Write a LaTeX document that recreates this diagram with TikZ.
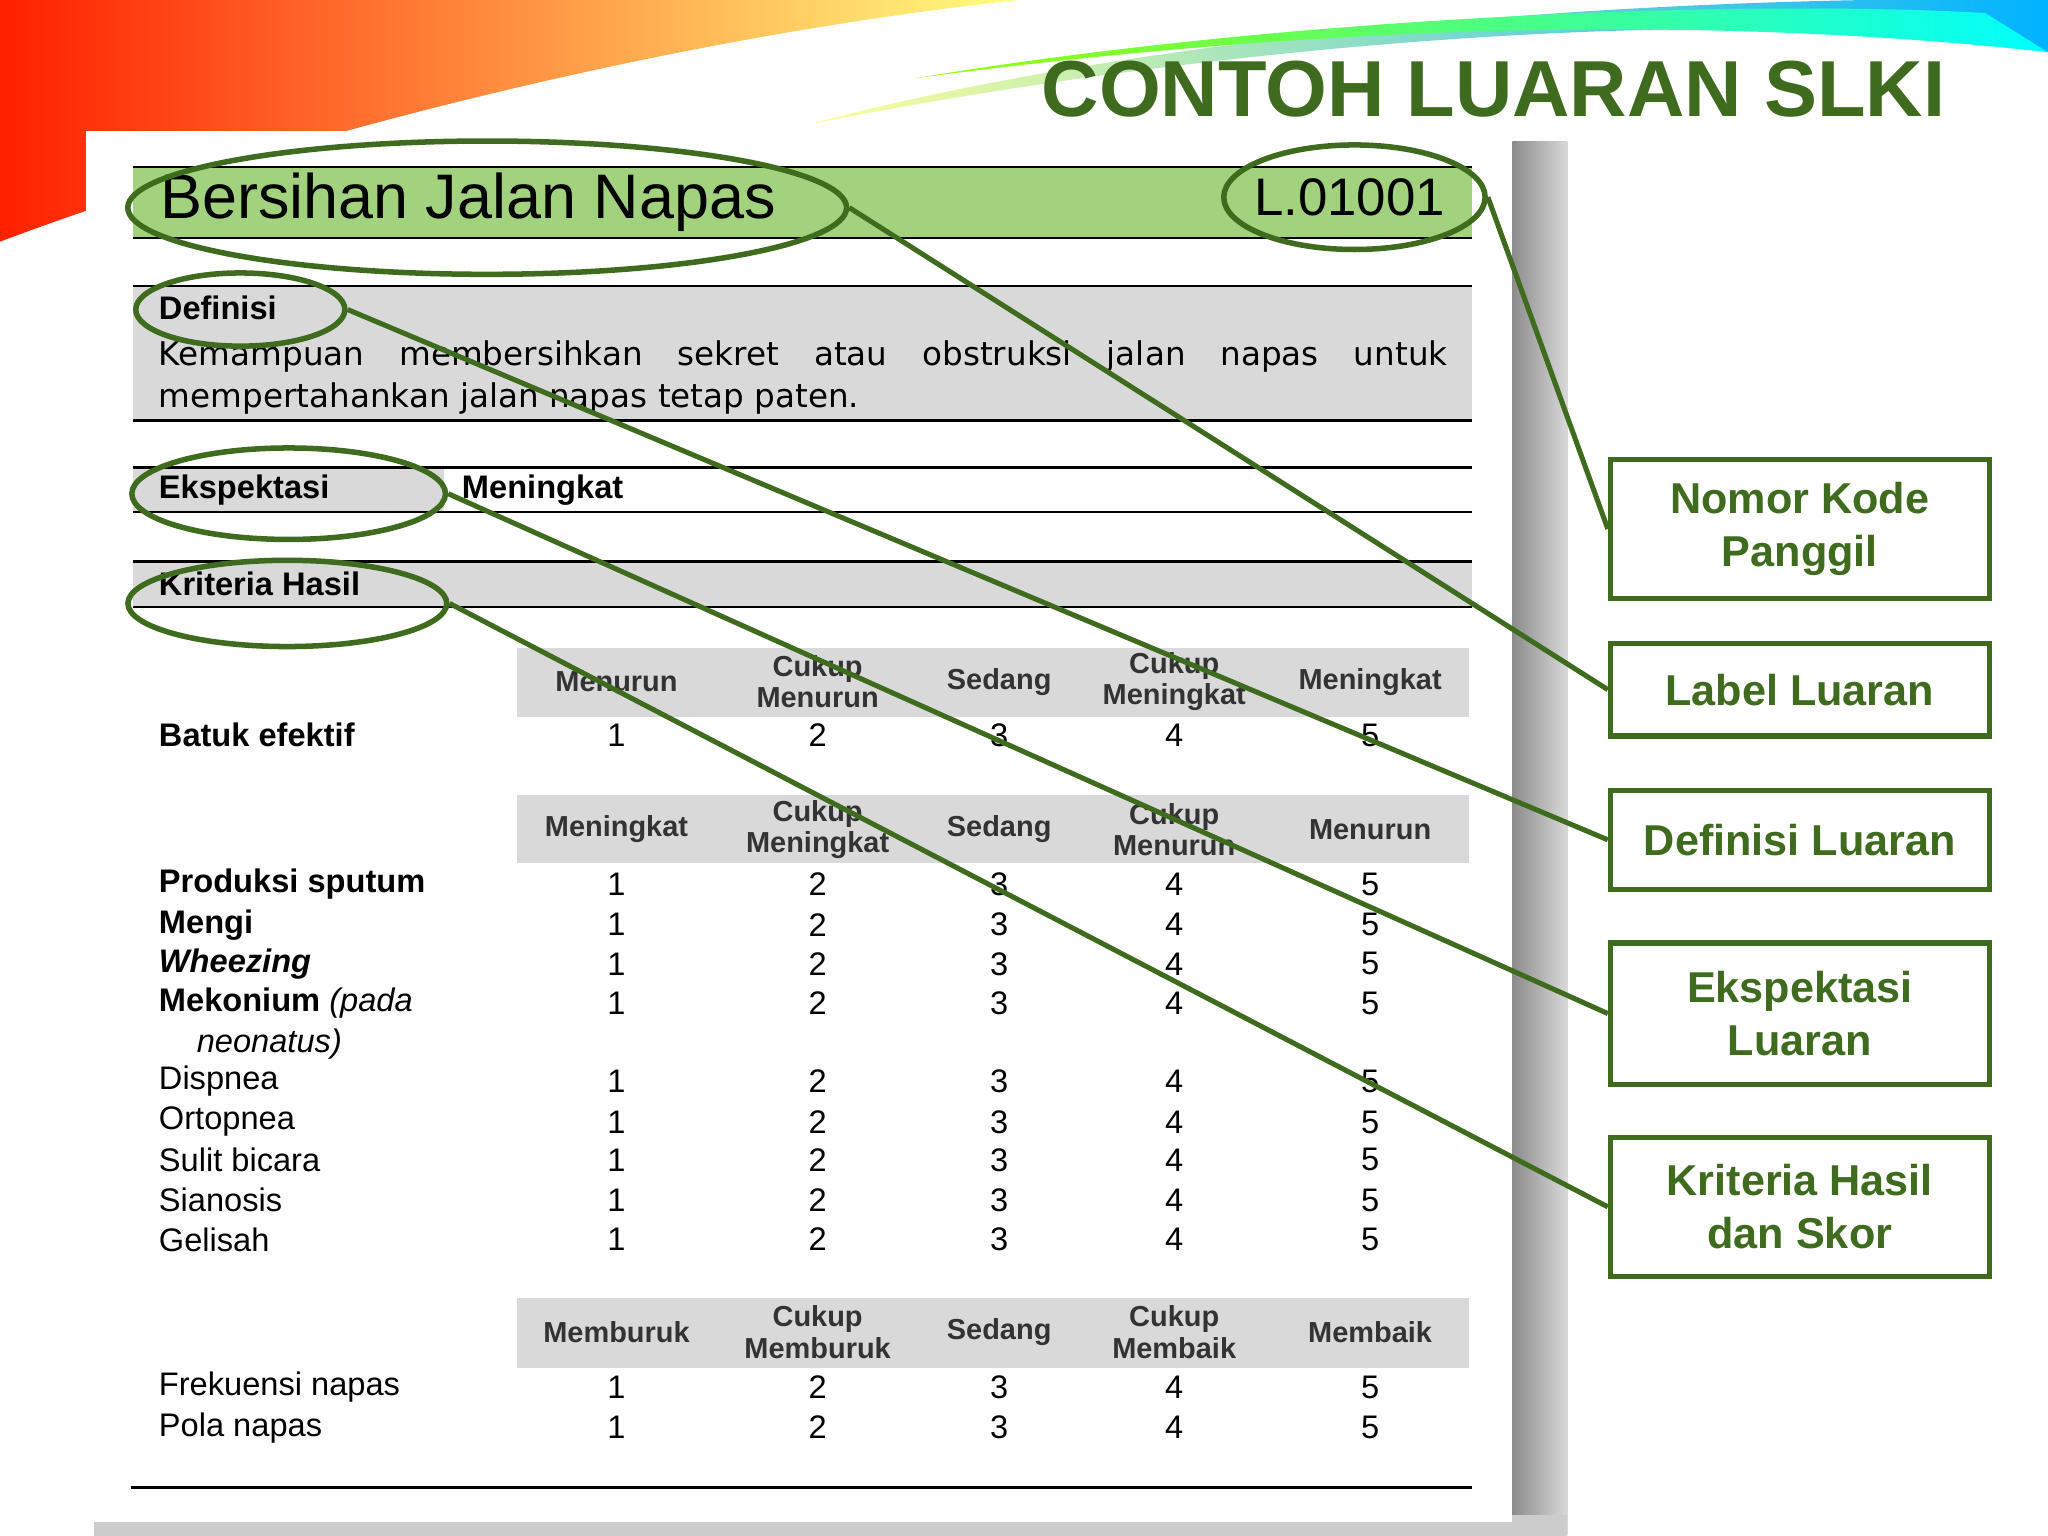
\documentclass[tikz,border=0pt]{standalone}
\usepackage{fontspec}
\setmainfont{Liberation Sans}
\newfontfamily\deffont{DejaVu Sans}
\usetikzlibrary{shapes.geometric}
\definecolor{dgreen}{HTML}{3F6B1F}
\definecolor{lgreen}{HTML}{A3D27E}
\definecolor{lgray}{HTML}{D9D9D9}
\tikzset{
  ell/.style={draw=dgreen,line width=1.2pt,ellipse,inner sep=0pt},
  cbox/.style={draw=dgreen,line width=1.1pt,minimum width=2.9cm,align=center,inner sep=0pt,text=dgreen,font=\fontsize{9.4}{11.5}\selectfont\bfseries},
  conn/.style={dgreen,line width=1.1pt},
  body/.style={font=\fontsize{7.1}{8}\selectfont,anchor=west,inner sep=0pt},
  bodyb/.style={body,font=\fontsize{7.1}{8}\selectfont\bfseries},
  num/.style={font=\fontsize{7.1}{8}\selectfont,inner sep=0pt},
  hdr/.style={font=\fontsize{6.3}{6.8}\selectfont\bfseries,text=black!80,align=center,inner sep=0pt}
}
\begin{document}
\begin{tikzpicture}[x=0.01cm,y=-0.01cm]
\useasboundingbox (0,0) rectangle (1568,1176);
\fill[white] (0,0) rectangle (1568,1176);
% decorative swoosh
\shade[left color=red!75!orange,right color=yellow!50!white] (0,0) -- (780,0) .. controls (500,30) and (200,110) .. (0,185) -- cycle;
\shade[left color=yellow!40,right color=cyan!70!blue] (620,95) .. controls (900,20) and (1300,-5) .. (1568,0) -- (1568,40) .. controls (1400,5) and (1000,20) .. (620,95);
\shade[left color=green!40!yellow,right color=cyan] (700,60) .. controls (1000,10) and (1350,0) .. (1520,10) -- (1568,40) .. controls (1300,10) and (1000,20) .. (700,60);
% title
\node[anchor=east,inner sep=0pt,text=dgreen,font=\fontsize{17.3}{19}\selectfont\bfseries] (title) at (1490,68) {CONTOH LUARAN SLKI};
% paper with shadow
\shade[left color=black!45,right color=black!15] (1158,108) rectangle (1200,1176);
\fill[black!20] (72,1160) rectangle (1200,1176);
\fill[white] (66,100) rectangle (1158,1165);
% header bar
\fill[lgreen] (102,128) rectangle (1127,182);
\draw[line width=0.5pt] (102,128) -- (1127,128) (102,182) -- (1127,182);
\node[body,font=\fontsize{13.7}{15}\selectfont] (head) at (122,155) {Bersihan Jalan Napas};
\node[num,anchor=east,font=\fontsize{11.5}{13}\selectfont] (code) at (1107,151) {L.01001};
% definisi
\fill[lgray] (102,219) rectangle (1127,322);
\draw[line width=0.5pt] (102,219) -- (1127,219) (102,322) -- (1127,322);
\node[bodyb] (def) at (121,236) {Definisi};
\node[anchor=north west,inner sep=0pt,text width=9.86cm,align=justify,font=\deffont\fontsize{7.1}{9.2}\selectfont] (deftext) at (121,260) {Kemampuan membersihkan sekret atau obstruksi jalan napas untuk\linebreak mempertahankan jalan napas tetap paten.};
% ekspektasi
\fill[lgray] (102,358) rectangle (340,392);
\draw[line width=0.5pt] (102,358) -- (1127,358) (102,392) -- (1127,392);
\node[bodyb] (eks) at (121,375) {Ekspektasi};
\node[bodyb] (mening) at (353,375) {Meningkat};
% kriteria
\fill[lgray] (102,430) rectangle (1127,465);
\draw[line width=0.5pt] (102,430) -- (1127,430) (102,465) -- (1127,465);
\node[bodyb] (krit) at (121,447) {Kriteria Hasil};
% table headers
\fill[lgray] (396,496) rectangle (1125,549);
\fill[lgray] (396,609) rectangle (1125,661);
\fill[lgray] (396,994) rectangle (1125,1047);
\foreach \x/\t [count=\i] in {472/Menurun,626/{Cukup\\Menurun},765/Sedang,899/{Cukup\\Meningkat},1049/Meningkat}
  \node[hdr] (ha\i) at (\x,522) {\t};
\foreach \x/\t [count=\i] in {472/Meningkat,626/{Cukup\\Meningkat},765/Sedang,899/{Cukup\\Menurun},1049/Menurun}
  \node[hdr] (hb\i) at (\x,635) {\t};
\foreach \x/\t [count=\i] in {472/Memburuk,626/{Cukup\\Memburuk},765/Sedang,899/{Cukup\\Membaik},1049/Membaik}
  \node[hdr] (hc\i) at (\x,1020) {\t};
% rows
\node[bodyb] (r1) at (121,563) {Batuk efektif};
\node[bodyb] (r2) at (121,677) {Produksi sputum};
\node[bodyb] (r3) at (121,708) {Mengi};
\node[bodyb] (r4) at (121,738) {\itshape Wheezing};
\node[bodyb] (r5) at (121,768) {Mekonium \normalfont\itshape(pada};
\node[body,font=\fontsize{7.1}{8}\selectfont\itshape] (r5b) at (150,799) {neonatus)};
\node[body] (r6) at (121,828) {Dispnea};
\node[body] (r7) at (121,859) {Ortopnea};
\node[body] (r8) at (121,888) {Sulit bicara};
\node[body] (r9) at (121,919) {Sianosis};
\node[body] (r10) at (121,949) {Gelisah};
\node[body] (r11) at (121,1062) {Frekuensi napas};
\node[body] (r12) at (121,1093) {Pola napas};
\foreach \y in {563,677,708,738,768,828,859,888,919,949,1062,1093}
  \foreach \x [count=\k] in {472,626,765,899,1049}
    \node[num] (n\y-\k) at (\x,\y) {\k};
\draw[line width=0.6pt] (100,1139) -- (1127,1139);
% ellipses
\node[ell,minimum width=5.5cm,minimum height=1.02cm] (e1) at (373,159) {};
\node[ell,minimum width=2cm,minimum height=0.8cm] (e2) at (1037,151) {};
\node[ell,minimum width=1.6cm,minimum height=0.56cm] (e3) at (184,237) {};
\node[ell,minimum width=2.4cm,minimum height=0.7cm] (e4) at (221,378) {};
\node[ell,minimum width=2.44cm,minimum height=0.66cm] (e5) at (220,462) {};
% right boxes
\node[cbox,minimum height=1.07cm] (b1) at (1378,405) {Nomor Kode\\Panggil};
\node[cbox,minimum height=0.71cm] (b2) at (1378,528) {Label Luaran};
\node[cbox,minimum height=0.76cm] (b3) at (1378,643) {Definisi Luaran};
\node[cbox,minimum height=1.08cm] (b4) at (1378,776) {Ekspektasi\\Luaran};
\node[cbox,minimum height=1.06cm] (b5) at (1378,924) {Kriteria Hasil\\dan Skor};
% connectors
\draw[conn] (e2.east) -- (b1.west);
\draw[conn] (e1.east) -- (b2.west);
\draw[conn] (e3.east) -- (b3.west);
\draw[conn] (e4.east) -- (b4.west);
\draw[conn] (e5.east) -- (b5.west);
\end{tikzpicture}
\end{document}
